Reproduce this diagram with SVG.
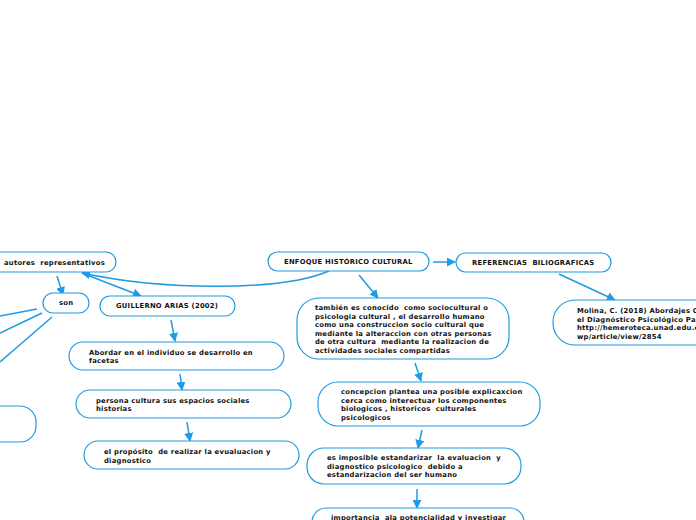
<svg xmlns="http://www.w3.org/2000/svg" width="696" height="520" viewBox="0 0 696 520">
<style>
.n{fill:#fff;stroke:#1e9be3;stroke-width:1.2}
.t{font-family:"DejaVu Sans",Verdana,sans-serif;font-weight:bold;font-size:6.8px;fill:#111;letter-spacing:0.25px;white-space:pre}
.c{stroke:#1e9be3;stroke-width:1.5;fill:none}
</style>
<defs><marker id="a" viewBox="0 0 10 10" refX="9" refY="5" markerWidth="6" markerHeight="6" orient="auto"><path d="M0,0L10,5L0,10z" fill="#1e9be3"/></marker></defs>
<rect width="696" height="520" fill="#fff"/>
<g id="connectors">
<path class="c" d="M329,271 C280,292 160,290 82,273" marker-end="url(#a)"/>
<path class="c" d="M82,273 L141,296" marker-end="url(#a)"/>
<path class="c" d="M57,276 L63,295" marker-end="url(#a)"/>
<path class="c" d="M37,309 L0,316"/>
<path class="c" d="M42,313 L0,333"/>
<path class="c" d="M52,317 L0,362"/>
<path class="c" d="M171,320 L175,341" marker-end="url(#a)"/>
<path class="c" d="M180,374 L182,390" marker-end="url(#a)"/>
<path class="c" d="M187,422 L190,441" marker-end="url(#a)"/>
<path class="c" d="M359,275 L378,298" marker-end="url(#a)"/>
<path class="c" d="M415,363 L421,381" marker-end="url(#a)"/>
<path class="c" d="M422,430 L418,448" marker-end="url(#a)"/>
<path class="c" d="M417,489 L417,508" marker-end="url(#a)"/>
<path class="c" d="M433,262 L455,262" marker-end="url(#a)"/>
<path class="c" d="M559,274 L615,300" marker-end="url(#a)"/>
</g>
<g id="n1"><rect class="n" x="-20" y="252" width="136" height="20" rx="10"/><text class="t" x="4" y="264.5">autores  representativos</text></g>
<g id="n2"><rect class="n" x="43" y="293" width="46" height="20" rx="10"/><text class="t" x="59" y="305">son</text></g>
<g id="n3"><rect class="n" x="100" y="296" width="135" height="20" rx="10"/><text class="t" x="116" y="308">GUILLERNO ARIAS (2002)</text></g>
<g id="n4"><rect class="n" x="69" y="342" width="215" height="28" rx="14"/><text class="t" x="89" y="355">Abordar en el individuo se desarrollo en</text><text class="t" x="89" y="363">facetas</text></g>
<g id="n5"><rect class="n" x="76" y="390" width="215" height="28" rx="14"/><text class="t" x="96" y="403">persona cultura sus espacios sociales</text><text class="t" x="96" y="411">historias</text></g>
<g id="n6"><rect class="n" x="84" y="441" width="215" height="28" rx="14"/><text class="t" x="104" y="454">el propósito  de realizar la evualuacion y</text><text class="t" x="104" y="463">diagnostico</text></g>
<g id="n7"><rect class="n" x="-30" y="406" width="66" height="36" rx="16"/></g>
<g id="n8"><rect class="n" x="268" y="252" width="161" height="19" rx="9.5"/><text class="t" x="284" y="264">ENFOQUE HISTÓRICO CULTURAL</text></g>
<g id="n9"><rect class="n" x="297" y="298" width="212" height="61" rx="22"/>
<text class="t" x="315" y="310">también es conocido  como sociocultural o</text>
<text class="t" x="315" y="318.5">psicologia cultural , el desarrollo humano</text>
<text class="t" x="315" y="327">como una construccion socio cultural que</text>
<text class="t" x="315" y="335.5">mediante la alteraccion con otras personas</text>
<text class="t" x="315" y="344">de otra cultura  mediante la realizacion de</text>
<text class="t" x="315" y="352.5">actividades sociales compartidas</text></g>
<g id="n10"><rect class="n" x="318" y="382" width="222" height="44" rx="20"/>
<text class="t" x="341" y="394">concepcion plantea una posible explicaxcion</text>
<text class="t" x="341" y="402.5">cerca como interectuar los componentes</text>
<text class="t" x="341" y="411">biologicos , historicos  culturales</text>
<text class="t" x="341" y="419.5">psicologicos</text></g>
<g id="n11"><rect class="n" x="307" y="448" width="214" height="36" rx="17"/>
<text class="t" x="327" y="460">es imposible estandarizar  la evaluacion  y</text>
<text class="t" x="327" y="468.5">diagnostico psicologico  debido a</text>
<text class="t" x="327" y="477">estandarizacion del ser humano</text></g>
<g id="n12"><rect class="n" x="312" y="508" width="212" height="30" rx="14"/>
<text class="t" x="331" y="520">importancia  ala potencialidad y investigar</text></g>
<g id="n13"><rect class="n" x="456" y="253" width="155" height="19" rx="9.5"/><text class="t" x="472" y="265">REFERENCIAS  BILIOGRAFICAS</text></g>
<g id="n14"><rect class="n" x="553" y="300" width="180" height="45" rx="22"/>
<text class="t" x="577" y="313">Molina, C. (2018) Abordajes Co</text>
<text class="t" x="577" y="321.5">el Diagnóstico Psicológico Part</text>
<text class="t" x="577" y="330">http://hemeroteca.unad.edu.c</text>
<text class="t" x="577" y="338.5">wp/article/view/2854</text></g>
</svg>
